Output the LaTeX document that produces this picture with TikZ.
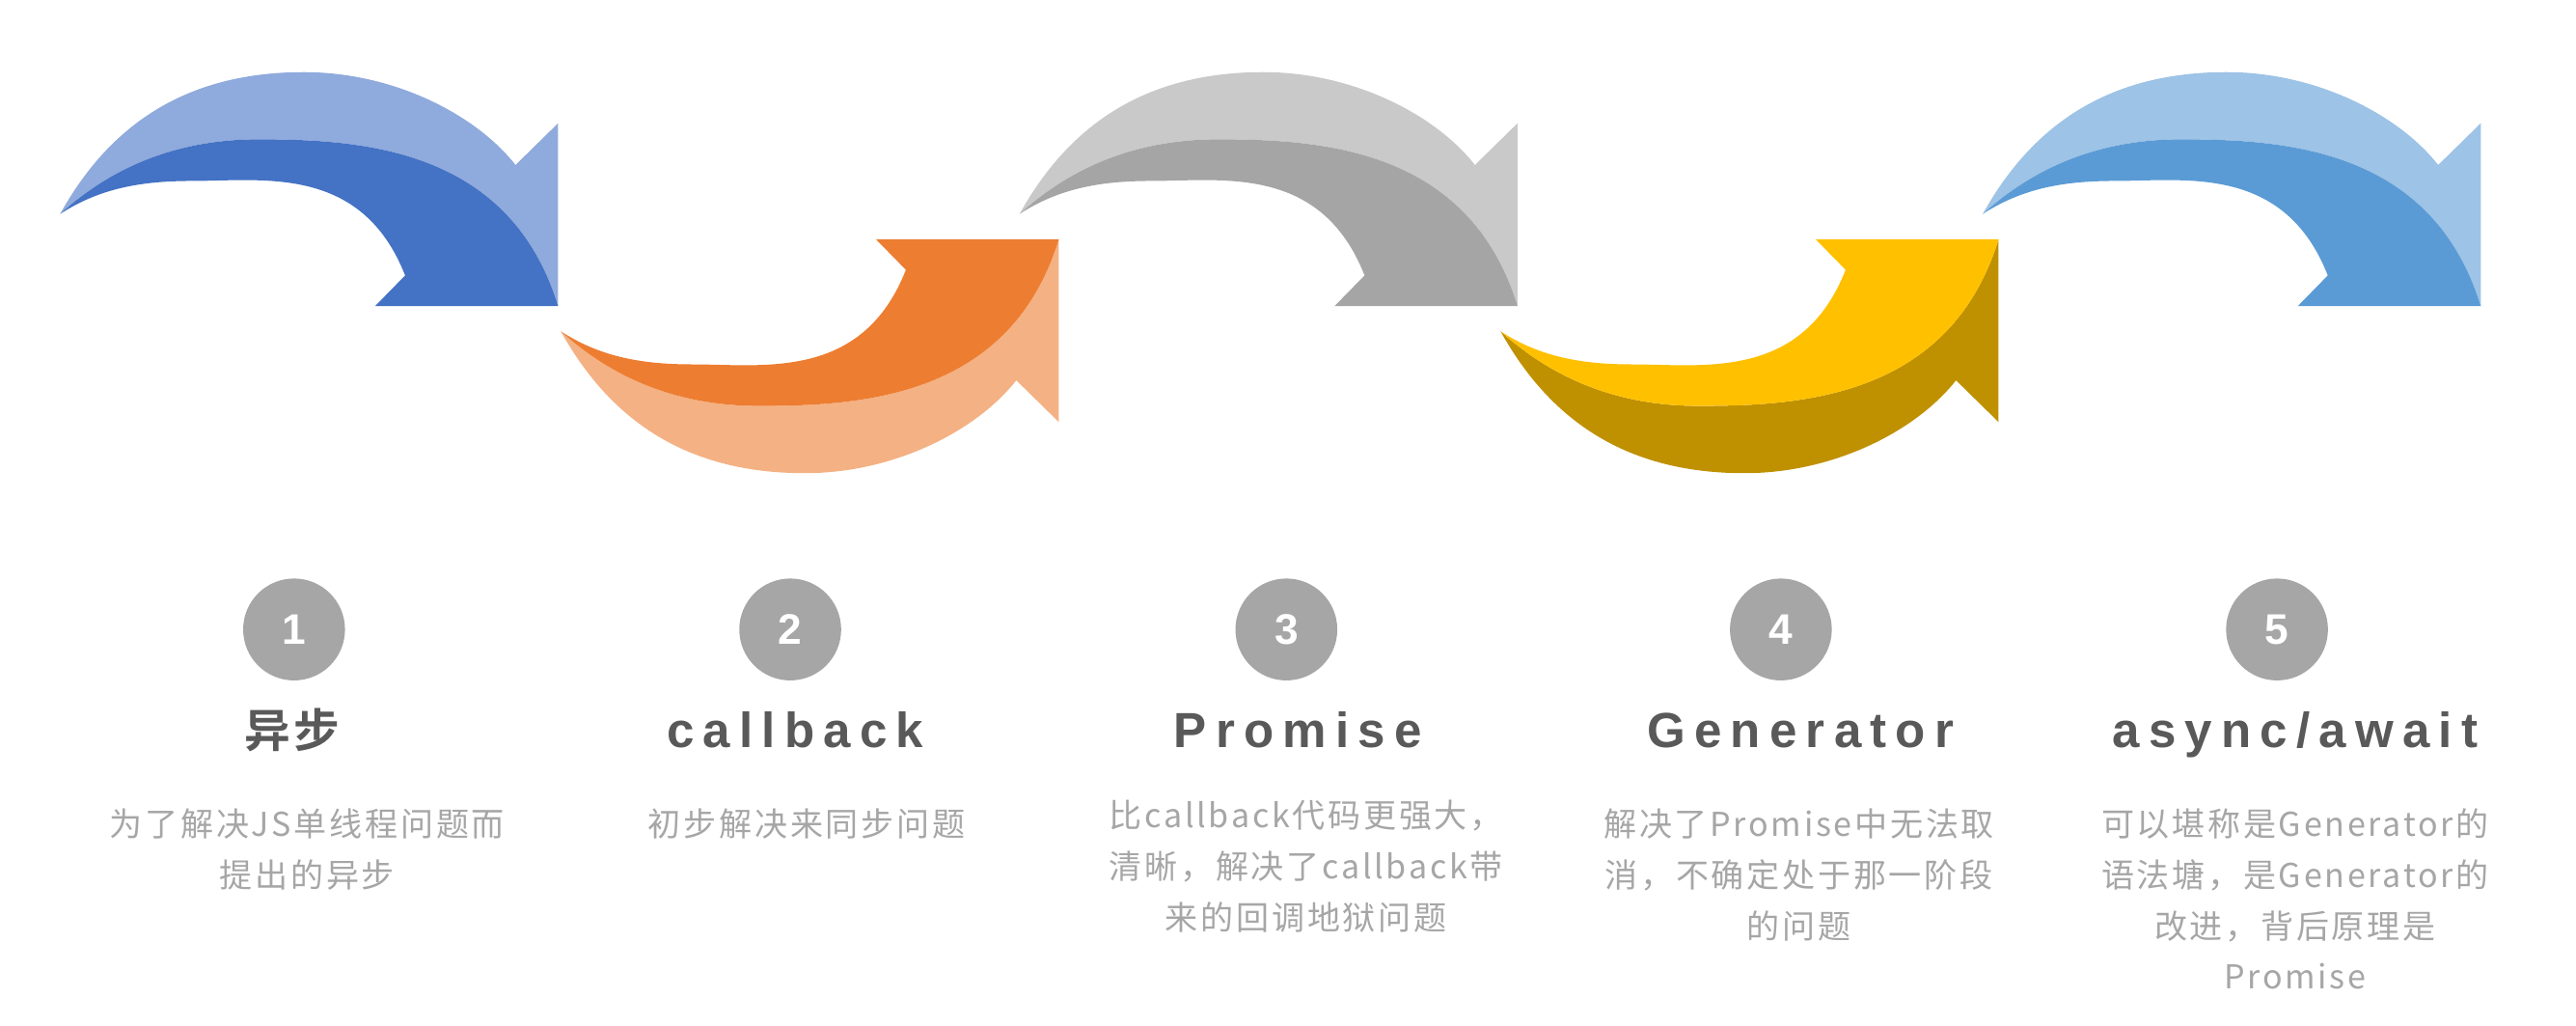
\documentclass[tikz,border=0pt]{standalone}
\usepackage{fontspec}
\setmainfont{Liberation Sans}
\newfontfamily\cjk[LetterSpace=8]{Noto Sans CJK SC}
\newfontfamily\ttl[LetterSpace=18]{Liberation Sans}
\newfontfamily\cjkb[LetterSpace=8]{Noto Sans CJK SC Bold}
\definecolor{tc}{HTML}{595959}
\definecolor{dc}{HTML}{A6A6A6}
\newcommand{\myarrow}[2]{%
  % light part
  \fill[#2] (36.6,130.2) .. controls (70,70) and (120,43.9) .. (185,43.9)
    .. controls (240,43.9) and (290,70) .. (313.8,100.4) -- (339.7,75) -- (339.7,186.2)
    .. controls (310,90) and (220,84.8) .. (157.3,84.8)
    .. controls (110,84.8) and (70,100) .. cycle;
  % dark part
  \fill[#1] (36.6,130.2) .. controls (70,100) and (110,84.8) .. (157.3,84.8)
    .. controls (220,84.8) and (310,90) .. (339.7,186.2) -- (228.4,186.2) -- (246.6,167.6)
    .. controls (220,100) and (160,110.1) .. (116.4,110.1)
    .. controls (85,110.1) and (60,115) .. cycle;
}
\tikzset{num/.style={circle,fill=dc,minimum size=31pt,inner sep=0pt,text=white,font=\bfseries\fontsize{13}{13}\selectfont},
 ttlnode/.style={text=tc,font=\ttl\bfseries\fontsize{15}{15}\selectfont,anchor=base},
 ttlcjk/.style={text=tc,font=\cjkb\fontsize{14}{14}\selectfont,anchor=base},
 desc/.style={text=dc,font=\cjk\fontsize{10}{15.5}\selectfont,align=center,anchor=north}}
\begin{document}
\begin{tikzpicture}[x=0.5pt,y=-0.5pt]
\useasboundingbox (0,0) rectangle (1568,624);
\myarrow{blue!60!black!0!white}{white}
\definecolor{a1d}{HTML}{4472C4}\definecolor{a1l}{HTML}{8FAADC}
\definecolor{a2d}{HTML}{ED7D31}\definecolor{a2l}{HTML}{F4B183}
\definecolor{a3d}{HTML}{A5A5A5}\definecolor{a3l}{HTML}{C9C9C9}
\definecolor{a4d}{HTML}{FFC000}\definecolor{a4l}{HTML}{BF9000}
\definecolor{a5d}{HTML}{5B9BD5}\definecolor{a5l}{HTML}{9DC3E6}
\myarrow{a1d}{a1l}
\begin{scope}[shift={(304.8,331.8)}]\begin{scope}[yscale=-1]\myarrow{a2d}{a2l}\end{scope}\end{scope}
\begin{scope}[shift={(584,0)}]\myarrow{a3d}{a3l}\end{scope}
\begin{scope}[shift={(876.8,331.8)}]\begin{scope}[yscale=-1]\myarrow{a4d}{a4l}\end{scope}\end{scope}
\begin{scope}[shift={(1170.3,0)}]\myarrow{a5d}{a5l}\end{scope}
\node[num] (n1) at (179,383) {1};
\node[num] (n2) at (481,383) {2};
\node[num] (n3) at (783,383) {3};
\node[num] (n4) at (1084,383) {4};
\node[num] (n5) at (1386,383) {5};
\node[ttlcjk] (t1) at (178,455) {异步};
\node[ttlnode] (t2) at (484,455) {callback};
\node[ttlnode] (t3) at (790,455) {Promise};
\node[ttlnode] (t4) at (1096,455) {Generator};
\node[ttlnode] (t5) at (1397,455) {async/await};
\node[desc] (d1) at (187,485) {为了解决JS单线程问题而\\提出的异步};
\node[desc] (d2) at (491,485) {初步解决来同步问题};
\node[desc] (d3) at (795,480) {比callback代码更强大，\\清晰，解决了callback带\\来的回调地狱问题};
\node[desc] (d4) at (1095,485) {解决了Promise中无法取\\消，不确定处于那一阶段\\的问题};
\node[desc] (d5) at (1397,485) {可以堪称是Generator的\\语法塘，是Generator的\\改进，背后原理是\\Promise};
\end{tikzpicture}
\end{document}
